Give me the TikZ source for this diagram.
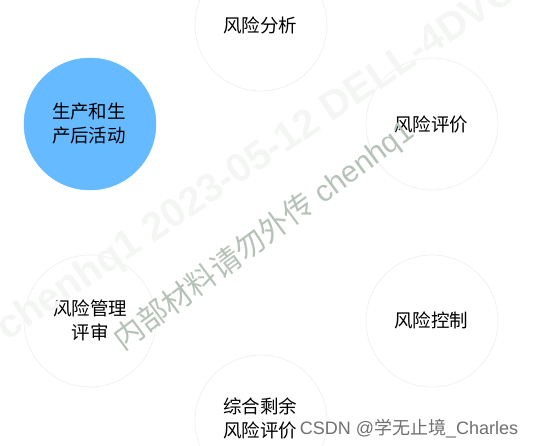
\documentclass[tikz,border=0pt]{standalone}
\usepackage{fontspec}
\setmainfont{Noto Sans CJK SC}
\newfontfamily\latinsans{Liberation Sans}
\definecolor{bluefill}{HTML}{66BAFF}
\definecolor{ringgray}{HTML}{EEEEEE}
\definecolor{wmgray}{HTML}{B6C2B7}
\definecolor{wmfaint}{HTML}{F4F6F4}
\definecolor{csdngray}{HTML}{707070}
\tikzset{
  bubble/.style={circle, draw=ringgray, line width=0.6pt, fill=white, minimum size=132pt, inner sep=0pt},
  bluebubble/.style={circle, draw=bluefill, fill=bluefill, minimum size=132pt, inner sep=0pt},
  label/.style={align=center, inner sep=0pt, text=black, font=\fontsize{18.5}{23.5}\selectfont},
}
\begin{document}
\begin{tikzpicture}[x=1pt, y=-1pt]
\useasboundingbox (0,0) rectangle (536,446);
\fill[white] (0,0) rectangle (536,446);
\begin{scope}
\clip (0,0) rectangle (536,446);
% circles
\node[bubble] (c1) at (261,25) {};
\node[bluebubble] (c0) at (90,124) {};
\node[bubble] (c2) at (432,124) {};
\node[bubble] (c5) at (90,321) {};
\node[bubble] (c3) at (432,321) {};
\node[bubble] (c4) at (261,421) {};
% labels
\node[label] (t1) at (260,25) {风险分析};
\node[label] (t0) at (89,123.5) {生产和生\\产后活动};
\node[label] (t2) at (431,124) {风险评价};
\node[label] (t5) at (90,320.5) {风险管理\\评审};
\node[label] (t3) at (431,320) {风险控制};
\node[label] (t4) at (260,418.5) {综合剩余\\风险评价};
% watermarks
\node[text=wmfaint, rotate=34, inner sep=0pt, font=\latinsans\bfseries\fontsize{40}{40}\selectfont] (w2) at (258,160) {chenhq1 2023-05-12 DELL-4DVO};
\node[text=wmgray, rotate=36.5, inner sep=0pt, font=\fontsize{30}{30}\selectfont] (w1) at (264,236) {内部材料请勿外传{\latinsans\ chenhq1}};
\end{scope}
\node[text=csdngray, inner sep=0pt, font=\fontsize{18}{18}\selectfont] (csdn) at (409,429) {{\latinsans CSDN @}学无止境{\latinsans \_Charles}};
\end{tikzpicture}
\end{document}
